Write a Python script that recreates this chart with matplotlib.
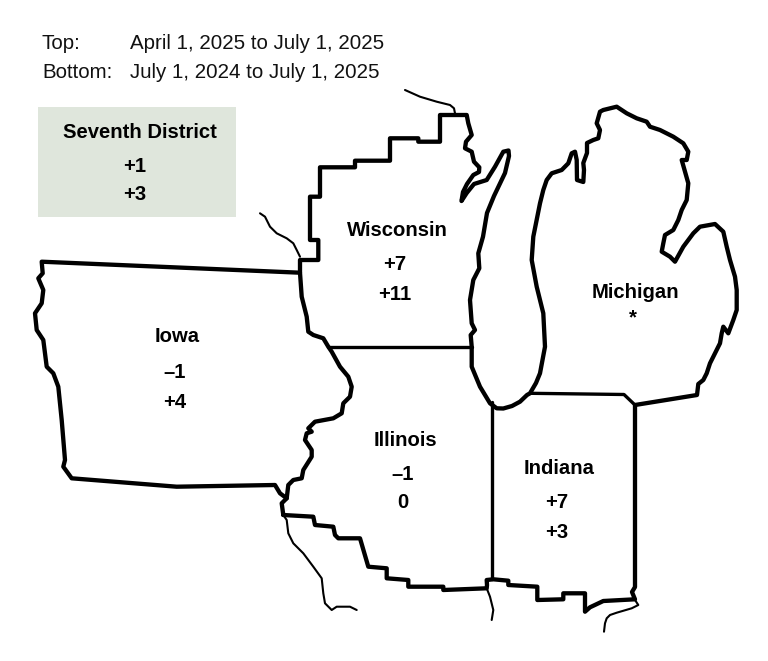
#!/usr/bin/env python3

import matplotlib
matplotlib.use("Agg")
import matplotlib.pyplot as plt
from matplotlib.patches import Rectangle

# Percent changes per state (None = not reported, shown as *)
states = ["Iowa", "Wisconsin", "Illinois", "Indiana", "Michigan"]
top_change = [-1, 7, -1, 7, None]       # April 1, 2025 to July 1, 2025
bottom_change = [4, 11, 0, 3, None]     # July 1, 2024 to July 1, 2025
district_top = 1
district_bottom = 3

header_labels = ["Top:", "Bottom:"]
header_periods = ["April 1, 2025 to July 1, 2025", "July 1, 2024 to July 1, 2025"]

outer_border = [
    (283.3, 515), (281.7, 503.3), (286.7, 498.3), (288.3, 485), (293.3, 480),
    (301.7, 478.3), (303.3, 470), (311.7, 456.7), (311.7, 450), (305, 440),
    (306.7, 433.3), (311.7, 431.7), (308.3, 428.3), (315, 421.7), (333.3, 418.3),
    (341.7, 413.3), (343.3, 403.3), (350, 396.7), (351.7, 386.7), (348.3, 376.7),
    (340, 366.7), (331.7, 351.7), (328.3, 346.7), (323.3, 338.3), (313.3, 335),
    (308.3, 331.7), (306.7, 316.7), (301.7, 296.7), (300, 272.7), (300, 260),
    (318.3, 260), (318.3, 240), (310, 240), (310, 196.7), (320, 196.7),
    (320, 167.3), (355, 167.3), (355, 160.7), (390, 160.7), (390, 138.3),
    (418.3, 138.3), (418.3, 141.7), (440, 141.7), (440, 115), (466.7, 115),
    # Wisconsin lake shore and Door peninsula
    (468.3, 123.3), (471.7, 135), (466, 141.7), (465, 148.3), (471.7, 151.7),
    (474, 161.7), (479.3, 167.3), (479, 172), (473.3, 175), (467, 184),
    (463, 192), (461.5, 201), (466.7, 193), (474, 184), (486.7, 180),
    (495, 166.7), (503.3, 151.7), (508.5, 150.5), (509, 156), (505, 173),
    (494, 196), (487, 213), (483, 236.7), (478.3, 253.3), (479.3, 268.3),
    (473.3, 280), (470, 300), (471.7, 323.3), (475, 330), (470.7, 335),
    (471.7, 346.7), (471.7, 366.7), (480, 386.7), (490, 403.3),
    # southern tip of the lake
    (496.7, 408.3), (503.3, 408.5), (512, 406), (520, 401.7), (527, 395),
    (530, 393.3),
    # Michigan lake shore
    (536, 383), (540, 373.3), (545, 346.7), (543.3, 313.3), (536.7, 286.7),
    (531.7, 260), (533.3, 236.7), (536.7, 220), (540, 203.3), (543.3, 190),
    (546.7, 180), (551.7, 173.3), (561.7, 170), (568.3, 163.3), (571.7, 153.3),
    (575, 151.7), (576.7, 160), (577, 180), (583.3, 182), (584, 170),
    (583.3, 163), (587, 153), (587, 143), (593.3, 140), (598.3, 138.3),
    (600, 130), (596.7, 123.3), (600, 111.7), (603.3, 110), (616.7, 106.7),
    (626.7, 113.3), (636.7, 118.3), (646.7, 121.7), (650, 126.7), (660, 130),
    (673.3, 136.7), (683.3, 143.3), (688.3, 151.7), (686.7, 160), (681.7, 160),
    (685, 171.7), (688.3, 183.3), (686.7, 200), (681.7, 210), (678.3, 220),
    (673.3, 230), (665, 235), (663.3, 243.3), (661.7, 251.7), (670, 256.7),
    (675, 261.7), (683.3, 246.7), (693.3, 233.3), (700, 226.7), (715, 224),
    (723.3, 231.7), (726.7, 246.7), (730, 260), (735, 276.7), (736.7, 290),
    (736.7, 310), (733.3, 320), (728.3, 333.3), (723.3, 326.7), (721.7, 333.3),
    (720, 343.3), (715, 353.3), (710, 363.3), (706.7, 373.3), (703.3, 380),
    (698.3, 384), (697, 395), (635, 405),
    # Indiana east and south
    (635, 587), (632, 592), (635, 599.3), (603.3, 601), (590, 607.3),
    (585, 611.7), (585, 593.3), (563.3, 593.3), (563.3, 599.3), (537.3, 600),
    (537.3, 586.7), (508.3, 585), (508.3, 580.7), (493.3, 579.3), (486.7, 580),
    (487, 585), (486.7, 588.3),
    # Illinois south
    (443.3, 590), (443.3, 586.7), (408.3, 586.7), (408.3, 580), (386.7, 578.3),
    (386.7, 568.3), (368.3, 566.7), (360, 538.3), (338.3, 538.3), (335, 535),
    (333.3, 526.7), (315, 525), (313.3, 516.7), (283.3, 515),
]

iowa_border = [
    (300, 272.7), (41.7, 261.7), (42.7, 273.3), (38.3, 278.3), (43.3, 290),
    (41.7, 303.3), (35, 313.3), (36.7, 330), (43.3, 340), (46.7, 366.7),
    (53.3, 373.3), (58.3, 386.7), (61.7, 420), (65, 460), (63.3, 466.7),
    (71.7, 478.3), (176.7, 486.7), (275, 485), (280, 493.3), (286.7, 498.3),
]

inner_borders = [
    [(328.3, 346.7), (471.7, 346.7)],                      # Wisconsin / Illinois
    [(491.7, 402), (491.7, 579.3)],                        # Illinois / Indiana
    [(530, 393.3), (624, 394.5), (635, 405)],              # Michigan / Indiana
]

rivers = [
    [(405, 90), (420, 96.7), (436.7, 101.7), (450, 105), (454, 108.3),
     (455, 113.3), (456.7, 115)],
    [(260, 213.3), (265, 216.7), (270, 226.7), (276.7, 233.3), (286.7, 238.3),
     (293.3, 243.3), (296.7, 250), (300, 256.7)],
    [(283.3, 515), (286.7, 520), (288.3, 533.3), (293.3, 543.3), (303.3, 553.3),
     (313.3, 566.7), (321.7, 578.3), (323.3, 593.3), (325, 603.3), (331.7, 610),
     (336.7, 606.7), (350, 606.7), (356.7, 610)],
    [(486.7, 588.3), (490, 596.7), (493.3, 610), (491.7, 620)],
    [(635, 600), (638.3, 605), (631.7, 608.3), (616.7, 612.7), (610, 615),
     (606.7, 618.3), (605, 623.3), (604, 631.7)],
]

# Label anchor positions: (x of name, y of name, y of top value, y of bottom value)
label_pos = {
    "Iowa": (177, 337, 372, 402),
    "Wisconsin": (397, 231, 264, 294),
    "Illinois": (405, 440, 474, 503),
    "Indiana": (559, 468, 503, 533),
    "Michigan": (635, 293, 318, None),
}


def fmt(v):
    if v is None:
        return "*"
    if v > 0:
        return f"+{v}"
    if v < 0:
        return f"\u2013{abs(v)}"
    return "0"


plt.rcParams['font.family'] = ['Liberation Sans', 'DejaVu Sans']

fig = plt.figure(figsize=(7.68, 6.61), dpi=100)
ax = fig.add_axes([0, 0, 1, 1])
ax.set_xlim(0, 768)
ax.set_ylim(661, 0)
ax.axis("off")

# Map lines
for line in rivers:
    xs, ys = zip(*line)
    ax.plot(xs, ys, color="black", lw=1.5, solid_joinstyle="round",
            solid_capstyle="round")
for line in inner_borders:
    xs, ys = zip(*line)
    ax.plot(xs, ys, color="black", lw=2.4, solid_capstyle="round")
for line in (outer_border, iowa_border):
    xs, ys = zip(*line)
    ax.plot(xs, ys, color="black", lw=3.1, solid_joinstyle="round",
            solid_capstyle="round")

# Header
for i, (lab, per) in enumerate(zip(header_labels, header_periods)):
    y = 49 + 29.5 * i
    ax.text(42, y, lab, fontsize=14.8, ha="left", va="baseline", color="#111111")
    ax.text(130, y, per, fontsize=14.8, ha="left", va="baseline", color="#111111")

# District box
ax.add_patch(Rectangle((38, 107), 198, 110, facecolor="#dfe6dc", edgecolor="none"))
ax.text(140, 133, "Seventh District", fontsize=14.6, fontweight="bold",
        ha="center", va="center")
ax.text(135, 166, fmt(district_top), fontsize=14.6, fontweight="bold",
        ha="center", va="center")
ax.text(135, 195, fmt(district_bottom), fontsize=14.6, fontweight="bold",
        ha="center", va="center")

# State labels
for name, t, b in zip(states, top_change, bottom_change):
    x, yn, yt, yb = label_pos[name]
    ax.text(x, yn, name, fontsize=14.6, fontweight="bold", ha="center", va="center")
    ax.text(x - 2, yt, fmt(t), fontsize=14.6, fontweight="bold", ha="center", va="center")
    if yb is not None and b is not None:
        ax.text(x - 2, yb, fmt(b), fontsize=14.6, fontweight="bold", ha="center", va="center")

fig.savefig("out.png", dpi=100)
